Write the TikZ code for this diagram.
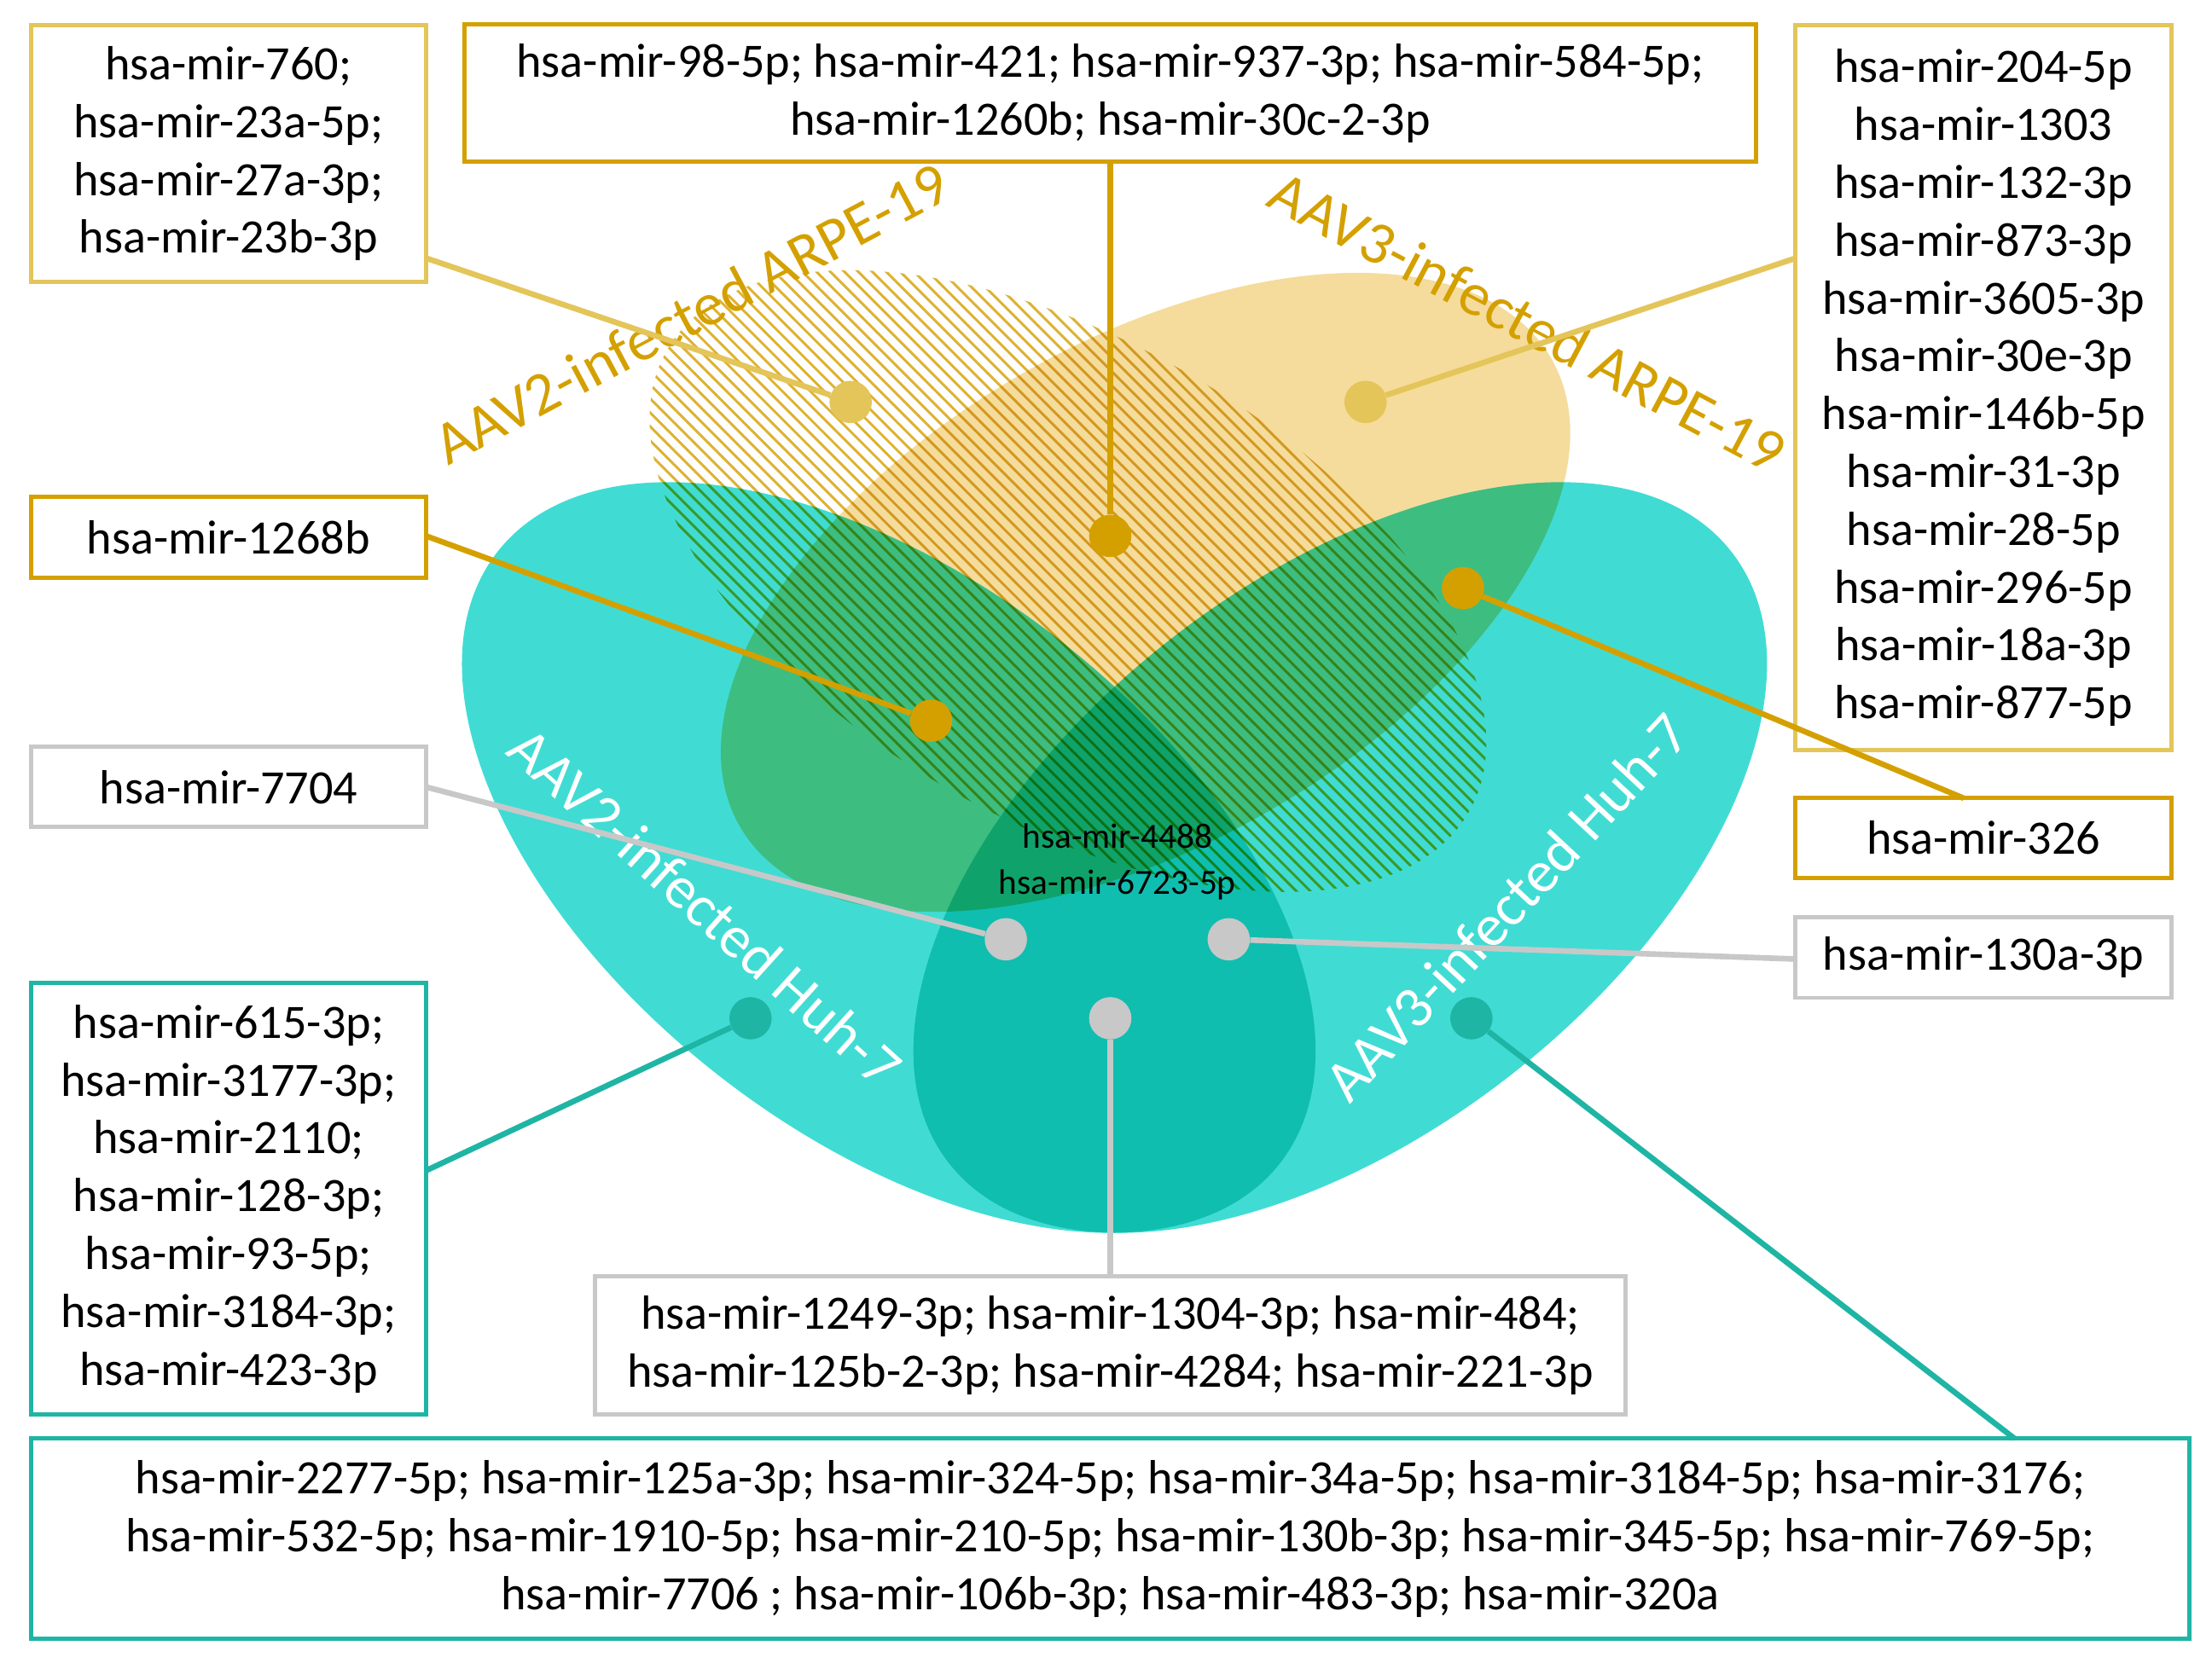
\documentclass[tikz,border=0pt]{standalone}
\usepackage{fontspec}
\setmainfont{Carlito}
\usetikzlibrary{patterns.meta}
\definecolor{lgold}{HTML}{E3C55A}
\definecolor{dgold}{HTML}{D4A000}
\definecolor{gbox}{HTML}{C8C8C8}
\definecolor{teal}{HTML}{1FB5A5}
\definecolor{cyanf}{HTML}{1FD6CC}
\definecolor{yell}{HTML}{EBB93A}
\begin{document}
\begin{tikzpicture}[x=1pt,y=1pt,
  box/.style={draw,line width=3pt,fill=white,align=center,font=\fontsize{34}{41}\selectfont,inner sep=0pt},
  dot/.style={circle,minimum size=30pt,inner sep=0pt},
  con/.style={line width=4pt}]
\useasboundingbox (0,0) rectangle (1568,-1183);
% ellipses
\begin{scope}[blend group=multiply]
\fill[cyanf,opacity=0.85,rotate around={-38:(630,-608)}] (630,-608) ellipse [x radius=352,y radius=196];
\fill[cyanf,opacity=0.85,rotate around={38:(950,-608)}] (950,-608) ellipse [x radius=352,y radius=196];
\fill[yell,opacity=0.5,rotate around={30:(812,-420)}] (812,-420) ellipse [x radius=332,y radius=178];
\fill[rotate around={-30:(757,-412)},pattern={Lines[angle=-45,distance=7pt,line width=1.8pt]},pattern color=dgold!80] (757,-412) ellipse [x radius=328,y radius=170];
\end{scope}
% labels in diagram
\node[text=dgold,font=\fontsize{43}{43}\selectfont,rotate=28] (l1) at (490,-222) {AAV2-infected ARPE-19};
\node[text=dgold,font=\fontsize{43}{43}\selectfont,rotate=-28] (l2) at (1083,-228) {AAV3-infected ARPE-19};
\node[text=white,font=\fontsize{42}{42}\selectfont,rotate=-42] (l3) at (500,-643) {AAV2-infected Huh-7};
\node[text=white,font=\fontsize{42}{42}\selectfont,rotate=47] (l4) at (1068,-643) {AAV3-infected Huh-7};
\node[align=center,font=\fontsize{25}{33}\selectfont] (ctr) at (792,-611) {hsa-mir-4488\\hsa-mir-6723-5p};
% boxes
\node[box,draw=lgold,minimum width=280pt,minimum height=182pt] (b1) at (162,-109) {hsa-mir-760;\\hsa-mir-23a-5p;\\hsa-mir-27a-3p;\\hsa-mir-23b-3p};
\node[box,draw=dgold,minimum width=915pt,minimum height=97pt] (b2) at (787,-66) {hsa-mir-98-5p; hsa-mir-421; hsa-mir-937-3p; hsa-mir-584-5p;\\hsa-mir-1260b; hsa-mir-30c-2-3p};
\node[box,draw=lgold,minimum width=267pt,minimum height=514pt] (b3) at (1406,-275) {hsa-mir-204-5p\\hsa-mir-1303\\hsa-mir-132-3p\\hsa-mir-873-3p\\hsa-mir-3605-3p\\hsa-mir-30e-3p\\hsa-mir-146b-5p\\hsa-mir-31-3p\\hsa-mir-28-5p\\hsa-mir-296-5p\\hsa-mir-18a-3p\\hsa-mir-877-5p};
\node[box,draw=dgold,minimum width=280pt,minimum height=57pt] (b4) at (162,-381) {hsa-mir-1268b};
\node[box,draw=gbox,minimum width=280pt,minimum height=57pt] (b5) at (162,-558) {hsa-mir-7704};
\node[box,draw=teal,minimum width=280pt,minimum height=306pt] (b6) at (162,-850) {hsa-mir-615-3p;\\hsa-mir-3177-3p;\\hsa-mir-2110;\\hsa-mir-128-3p;\\hsa-mir-93-5p;\\hsa-mir-3184-3p;\\hsa-mir-423-3p};
\node[box,draw=dgold,minimum width=267pt,minimum height=57pt] (b7) at (1406,-594) {hsa-mir-326};
\node[box,draw=gbox,minimum width=267pt,minimum height=57pt] (b8) at (1406,-679) {hsa-mir-130a-3p};
\node[box,draw=gbox,minimum width=731pt,minimum height=98pt] (b9) at (787,-954) {hsa-mir-1249-3p; hsa-mir-1304-3p; hsa-mir-484;\\hsa-mir-125b-2-3p; hsa-mir-4284; hsa-mir-221-3p};
\node[box,draw=teal,minimum width=1530pt,minimum height=142pt] (b10) at (787,-1091) {hsa-mir-2277-5p; hsa-mir-125a-3p; hsa-mir-324-5p; hsa-mir-34a-5p; hsa-mir-3184-5p; hsa-mir-3176;\\hsa-mir-532-5p; hsa-mir-1910-5p; hsa-mir-210-5p; hsa-mir-130b-3p; hsa-mir-345-5p; hsa-mir-769-5p;\\hsa-mir-7706 ; hsa-mir-106b-3p; hsa-mir-483-3p; hsa-mir-320a};
% dots
\node[dot,fill=lgold] (d1) at (603,-285) {};
\node[dot,fill=dgold] (d2) at (787,-380) {};
\node[dot,fill=lgold] (d3) at (968,-285) {};
\node[dot,fill=dgold] (d4) at (660,-511) {};
\node[dot,fill=dgold] (d5) at (1037,-417) {};
\node[dot,fill=gbox] (d6) at (713,-666) {};
\node[dot,fill=gbox] (d7) at (871,-666) {};
\node[dot,fill=gbox] (d8) at (787,-722) {};
\node[dot,fill=teal] (d9) at (532,-722) {};
\node[dot,fill=teal] (d10) at (1043,-722) {};
% connectors
\coordinate (c1) at (302,-183); \coordinate (c3) at (1273,-183);
\coordinate (c4) at (302,-380); \coordinate (c5) at (1392,-566);
\coordinate (c6) at (302,-558); \coordinate (c7) at (1273,-680);
\coordinate (c9) at (302,-830); \coordinate (c10) at (1428,-1020);
\draw[con,lgold] (c1) -- (d1);
\draw[con,dgold] (b2.south) -- (d2);
\draw[con,lgold] (c3) -- (d3);
\draw[con,dgold] (c4) -- (d4);
\draw[con,dgold] (d5) -- (c5);
\draw[con,gbox] (c6) -- (d6);
\draw[con,gbox] (d7) -- (c7);
\draw[con,gbox] (d8) -- (b9.north);
\draw[con,teal] (c9) -- (d9);
\draw[con,teal] (d10) -- (c10);
\end{tikzpicture}
\end{document}
